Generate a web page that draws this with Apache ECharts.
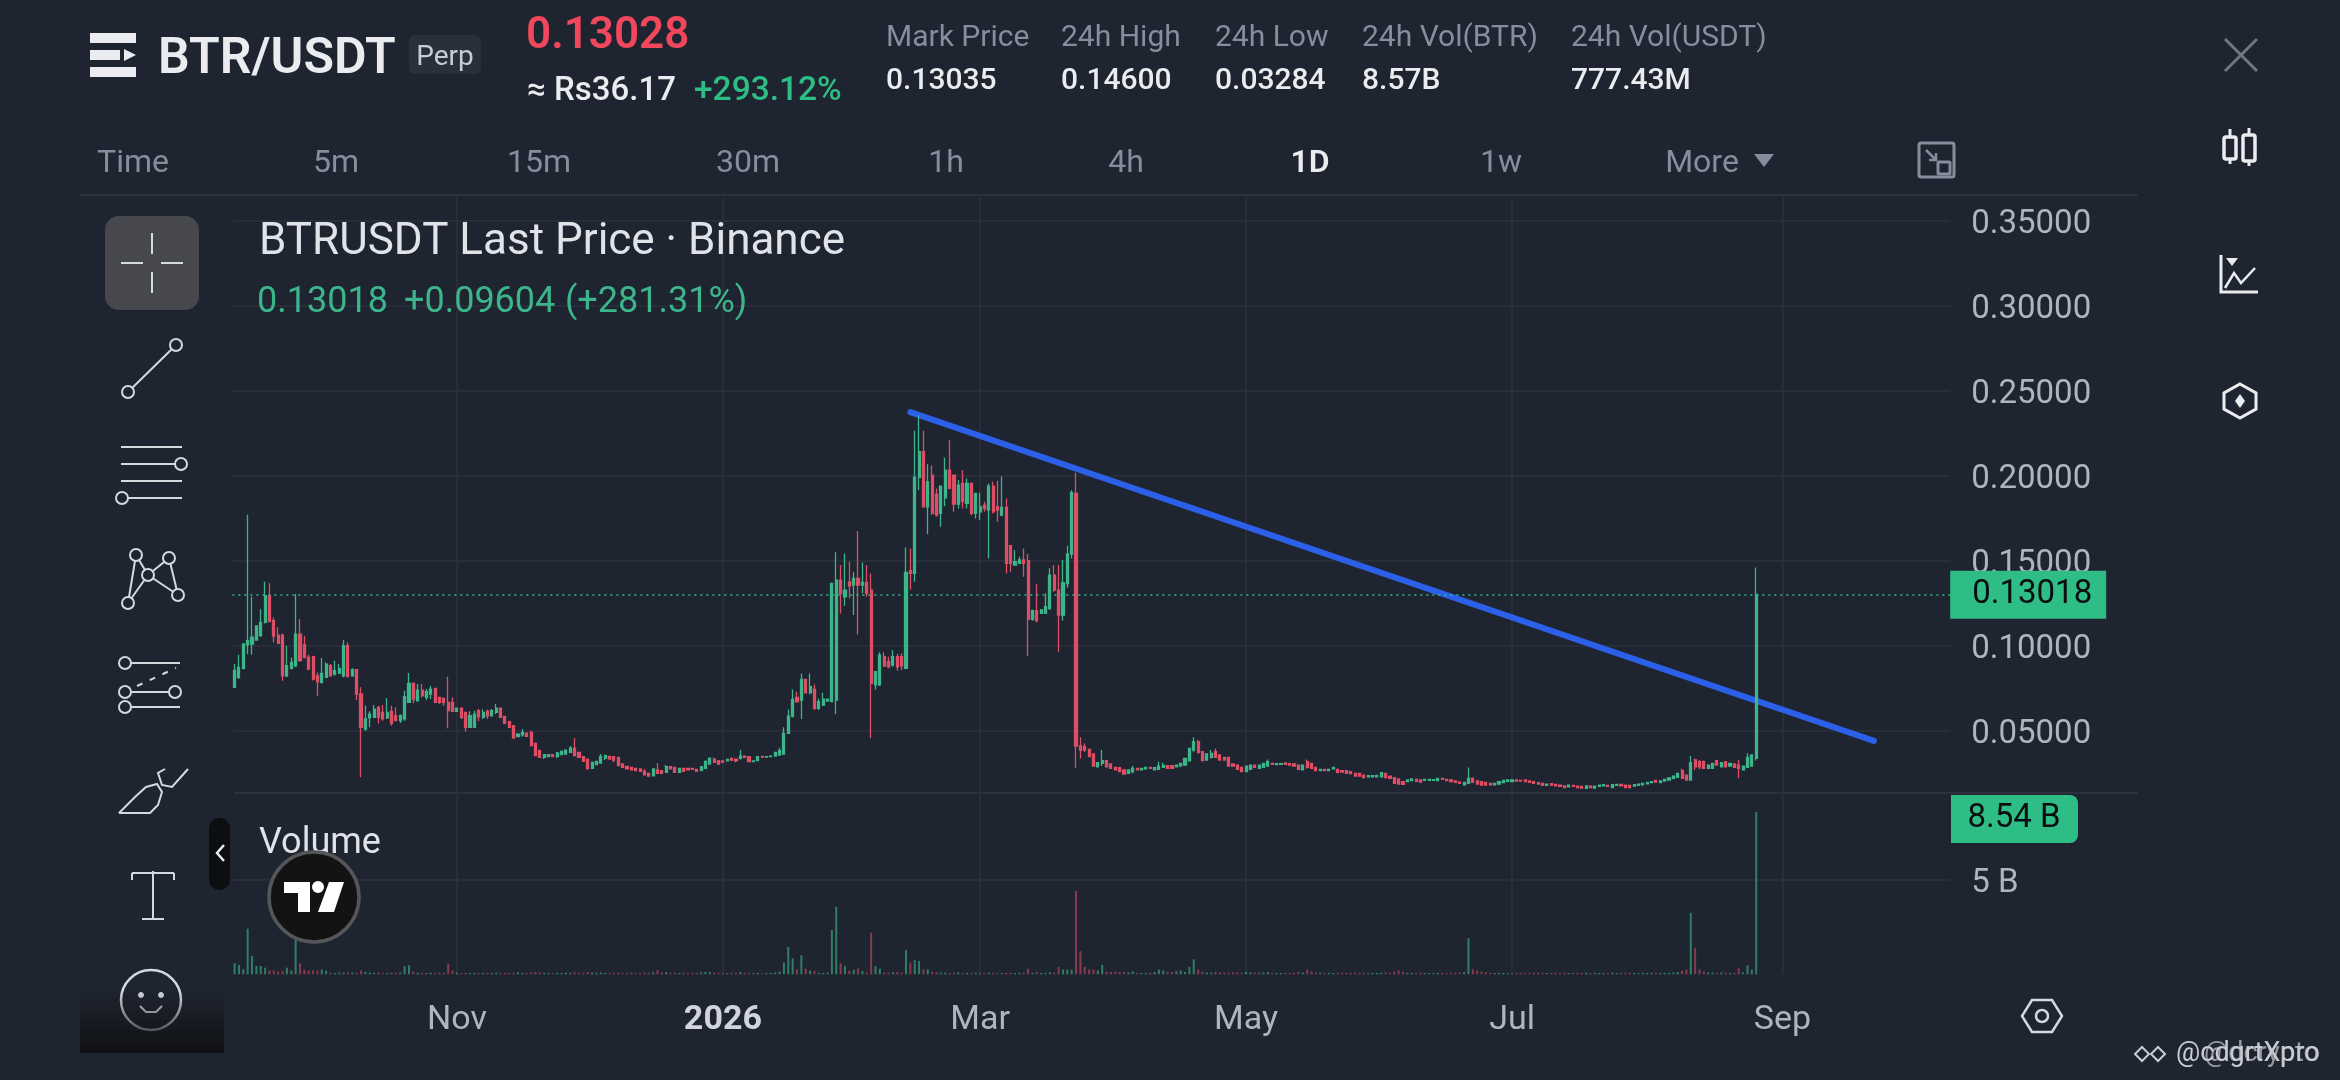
<!DOCTYPE html>
<html><head><meta charset="utf-8"><title>BTR/USDT</title>
<style>html,body{margin:0;padding:0;background:#1e2430;}#c{width:2340px;height:1080px;}</style>
<script src="https://cdn.jsdelivr.net/npm/echarts@6/dist/echarts.min.js"></script>
</head><body><div id="c"></div>
<script>
const startDate = '2025-09-11';
const categoryCount = 394;
const monthTicks = {'2025-11-01':'Nov','2026-01-01':'2026','2026-03-01':'Mar','2026-05-01':'May','2026-07-01':'Jul','2026-09-01':'Sep'};
const priceTicks = [0.05,0.10,0.15,0.20,0.25,0.30,0.35];
const opens = [
.0755,.0814,.0867,.1005,.1010,.1033,.1060,.1137,.1294,.1147,
.1062,.1062,.0823,.0867,.0882,.1068,.1004,.0931,.0935,.0823,
.0784,.0814,.0882,.0833,.0839,.0823,.1000,.0823,.0859,.0716,
.0510,.0575,.0578,.0637,.0608,.0575,.0614,.0588,.0559,.0569,
.0667,.0778,.0676,.0739,.0696,.0716,.0749,.0696,.0690,.0667,
.0667,.0614,.0633,.0608,.0520,.0520,.0618,.0578,.0614,.0588,
.0608,.0633,.0584,.0553,.0529,.0465,.0475,.0486,.0490,.0426,
.0382,.0343,.0347,.0359,.0347,.0359,.0363,.0373,.0398,.0373,
.0347,.0333,.0279,.0300,.0310,.0339,.0349,.0347,.0343,.0304,
.0290,.0284,.0278,.0275,.0261,.0249,.0235,.0269,.0265,.0255,
.0288,.0284,.0255,.0278,.0278,.0278,.0273,.0265,.0278,.0304,
.0333,.0323,.0323,.0322,.0337,.0333,.0337,.0351,.0347,.0318,
.0324,.0349,.0345,.0347,.0351,.0357,.0363,.0484,.0586,.0696,
.0680,.0802,.0723,.0743,.0631,.0651,.0674,.0671,.0680,.1386,
.1288,.1376,.1357,.1396,.1357,.1372,.1327,.0769,.0769,.0935,
.0906,.0886,.0935,.0935,.0867,.1441,.1425,.1990,.2141,.1817,
.2003,.1890,.1778,.1870,.2033,.2003,.1833,.1954,.1837,.1954,
.1778,.1788,.1827,.1798,.1939,.1817,.1768,.1813,.1588,.1474,
.1484,.1504,.1500,.1155,.1206,.1190,.1190,.1219,.1415,.1327,
.1180,.1366,.1539,.1896,.0410,.0406,.0390,.0363,.0288,.0308,
.0324,.0304,.0284,.0282,.0269,.0249,.0259,.0278,.0269,.0275,
.0284,.0269,.0273,.0284,.0294,.0294,.0288,.0292,.0298,.0322,
.0386,.0435,.0377,.0327,.0343,.0377,.0357,.0343,.0343,.0304,
.0298,.0284,.0259,.0273,.0298,.0278,.0284,.0292,.0308,.0300,
.0302,.0310,.0306,.0304,.0298,.0269,.0318,.0308,.0284,.0265,
.0273,.0265,.0276,.0273,.0265,.0265,.0259,.0249,.0249,.0239,
.0228,.0228,.0229,.0229,.0249,.0233,.0224,.0216,.0200,.0200,
.0206,.0214,.0210,.0208,.0208,.0208,.0206,.0220,.0214,.0210,
.0204,.0198,.0182,.0190,.0220,.0204,.0200,.0196,.0190,.0182,
.0186,.0194,.0202,.0200,.0210,.0208,.0210,.0204,.0200,.0194,
.0190,.0178,.0188,.0184,.0180,.0176,.0170,.0178,.0174,.0172,
.0161,.0174,.0163,.0172,.0176,.0178,.0166,.0178,.0184,.0180,
.0178,.0174,.0178,.0182,.0188,.0194,.0208,.0194,.0204,.0210,
.0218,.0225,.0265,.0239,.0210,.0328,.0318,.0318,.0278,.0278,
.0324,.0288,.0318,.0292,.0304,.0298,.0269,.0284,.0292,.0337];
const closes = [
.0855,.0872,.1010,.1030,.1050,.1117,.1137,.1294,.1143,.1057,
.1014,.0823,.0882,.0902,.1068,.0912,.0931,.0863,.0804,.0788,
.0837,.0892,.0823,.0853,.0867,.1000,.0818,.0859,.0716,.0520,
.0569,.0598,.0627,.0578,.0569,.0608,.0543,.0559,.0588,.0700,
.0778,.0686,.0739,.0706,.0729,.0745,.0667,.0667,.0667,.0618,
.0614,.0633,.0578,.0520,.0588,.0598,.0582,.0608,.0588,.0618,
.0633,.0578,.0543,.0520,.0457,.0480,.0490,.0467,.0412,.0353,
.0343,.0359,.0359,.0347,.0370,.0378,.0386,.0398,.0353,.0343,
.0320,.0275,.0314,.0320,.0347,.0353,.0333,.0327,.0294,.0284,
.0275,.0269,.0265,.0261,.0241,.0233,.0275,.0249,.0249,.0288,
.0275,.0255,.0278,.0261,.0269,.0273,.0261,.0288,.0320,.0339,
.0314,.0304,.0314,.0331,.0327,.0322,.0351,.0343,.0318,.0322,
.0347,.0345,.0347,.0351,.0373,.0382,.0484,.0586,.0684,.0670,
.0802,.0723,.0759,.0631,.0671,.0686,.0686,.1366,.1386,.1308,
.1327,.1351,.1396,.1357,.1372,.1308,.0778,.0847,.0945,.0880,
.0876,.0935,.0876,.0882,.1431,.1425,.1990,.2141,.1817,.1964,
.1778,.1768,.1939,.2033,.1925,.1833,.1945,.1847,.1954,.1778,
.1896,.1817,.1807,.1939,.1788,.1798,.1813,.1484,.1484,.1494,
.1504,.1484,.1155,.1206,.1147,.1210,.1229,.1415,.1327,.1180,
.1370,.1539,.1900,.0410,.0386,.0386,.0347,.0292,.0312,.0324,
.0288,.0278,.0269,.0259,.0245,.0269,.0278,.0269,.0278,.0284,
.0278,.0282,.0292,.0296,.0278,.0278,.0298,.0308,.0337,.0396,
.0435,.0371,.0324,.0363,.0367,.0343,.0327,.0327,.0292,.0292,
.0273,.0259,.0292,.0298,.0284,.0298,.0308,.0318,.0302,.0306,
.0306,.0302,.0298,.0292,.0273,.0298,.0284,.0278,.0265,.0273,
.0265,.0273,.0284,.0253,.0257,.0249,.0247,.0233,.0233,.0224,
.0235,.0235,.0237,.0253,.0224,.0220,.0190,.0186,.0184,.0210,
.0216,.0202,.0198,.0214,.0214,.0212,.0220,.0214,.0206,.0200,
.0196,.0190,.0196,.0220,.0196,.0186,.0180,.0180,.0182,.0190,
.0200,.0208,.0210,.0210,.0204,.0204,.0200,.0196,.0190,.0186,
.0178,.0186,.0180,.0176,.0172,.0166,.0180,.0172,.0166,.0163,
.0176,.0166,.0174,.0180,.0182,.0172,.0182,.0184,.0176,.0166,
.0166,.0182,.0186,.0190,.0196,.0200,.0198,.0204,.0214,.0222,
.0233,.0249,.0220,.0210,.0312,.0288,.0288,.0278,.0298,.0308,
.0298,.0312,.0288,.0308,.0284,.0278,.0292,.0343,.0357,.13018];
const lows = [
.0749,.0804,.0860,.0950,.0947,.1030,.1053,.1130,.1137,.1019,
.1010,.0794,.0815,.0860,.0875,.0905,.0925,.0855,.0795,.0706,
.0778,.0810,.0817,.0823,.0833,.0815,.0814,.0817,.0680,.0226,
.0500,.0520,.0575,.0543,.0559,.0569,.0529,.0555,.0545,.0559,
.0663,.0661,.0673,.0696,.0680,.0686,.0665,.0657,.0647,.0514,
.0608,.0610,.0569,.0496,.0516,.0518,.0555,.0569,.0569,.0584,
.0598,.0575,.0540,.0518,.0455,.0461,.0465,.0463,.0410,.0350,
.0341,.0333,.0345,.0345,.0340,.0355,.0359,.0370,.0351,.0341,
.0318,.0273,.0275,.0298,.0308,.0327,.0331,.0314,.0292,.0282,
.0273,.0267,.0263,.0259,.0239,.0231,.0233,.0245,.0247,.0253,
.0273,.0253,.0253,.0259,.0267,.0271,.0259,.0263,.0275,.0302,
.0312,.0302,.0312,.0320,.0322,.0314,.0331,.0341,.0316,.0316,
.0322,.0343,.0343,.0345,.0349,.0355,.0357,.0480,.0578,.0668,
.0569,.0721,.0715,.0622,.0622,.0645,.0670,.0669,.0598,.1190,
.1233,.1278,.1180,.1066,.1308,.1288,.0455,.0743,.0763,.0876,
.0867,.0876,.0853,.0857,.0861,.1331,.1376,.1915,.1813,.1656,
.1770,.1758,.1700,.1821,.1920,.1788,.1807,.1807,.1807,.1768,
.1748,.1739,.1788,.1513,.1778,.1729,.1762,.1425,.1435,.1470,
.1480,.1405,.0939,.1147,.1137,.1186,.1186,.1210,.1317,.0965,
.1147,.1343,.1513,.0282,.0337,.0376,.0345,.0290,.0286,.0292,
.0286,.0276,.0267,.0257,.0243,.0247,.0249,.0267,.0267,.0273,
.0276,.0267,.0269,.0280,.0276,.0276,.0286,.0290,.0296,.0320,
.0376,.0369,.0322,.0325,.0337,.0341,.0325,.0325,.0290,.0290,
.0271,.0257,.0257,.0271,.0282,.0276,.0282,.0290,.0300,.0298,
.0300,.0300,.0296,.0290,.0271,.0267,.0276,.0276,.0263,.0263,
.0263,.0263,.0274,.0251,.0255,.0247,.0245,.0231,.0231,.0222,
.0226,.0226,.0227,.0227,.0222,.0218,.0188,.0184,.0182,.0198,
.0204,.0200,.0196,.0206,.0206,.0206,.0204,.0212,.0204,.0198,
.0194,.0188,.0180,.0186,.0194,.0184,.0178,.0178,.0180,.0180,
.0184,.0192,.0200,.0198,.0202,.0202,.0198,.0194,.0188,.0184,
.0176,.0176,.0178,.0174,.0170,.0164,.0168,.0170,.0164,.0161,
.0159,.0164,.0161,.0170,.0174,.0170,.0164,.0176,.0174,.0164,
.0164,.0172,.0176,.0180,.0186,.0192,.0196,.0192,.0202,.0208,
.0216,.0223,.0218,.0208,.0208,.0269,.0273,.0276,.0276,.0276,
.0296,.0286,.0286,.0290,.0282,.0220,.0267,.0282,.0290,.0325];
const highs = [
.0892,.0947,.1015,.1770,.1288,.1117,.1215,.1376,.1368,.1166,
.1108,.1070,.1000,.0931,.1304,.1157,.1059,.0947,.0941,.0843,
.0927,.0902,.0892,.0912,.0892,.1033,.1019,.0867,.0863,.0755,
.0647,.0614,.0651,.0647,.0651,.0692,.0647,.0637,.0596,.0735,
.0839,.0784,.0774,.0774,.0745,.0765,.0753,.0698,.0696,.0818,
.0696,.0637,.0637,.0610,.0614,.0618,.0627,.0624,.0624,.0627,
.0657,.0637,.0586,.0555,.0530,.0486,.0510,.0490,.0500,.0430,
.0390,.0360,.0361,.0361,.0375,.0384,.0390,.0410,.0455,.0375,
.0349,.0335,.0316,.0322,.0363,.0359,.0353,.0351,.0345,.0306,
.0292,.0286,.0280,.0277,.0275,.0251,.0279,.0310,.0267,.0298,
.0290,.0286,.0280,.0280,.0280,.0280,.0275,.0290,.0325,.0343,
.0343,.0327,.0325,.0333,.0343,.0337,.0386,.0353,.0349,.0324,
.0349,.0351,.0349,.0353,.0375,.0400,.0520,.0625,.0743,.0729,
.0837,.0806,.0837,.0772,.0690,.0723,.0690,.1370,.1549,.1474,
.1543,.1494,.1435,.1674,.1490,.1474,.1425,.0847,.0961,.0961,
.0935,.0974,.0951,.0955,.1578,.1572,.2264,.2356,.2264,.2068,
.2060,.1925,.1939,.2107,.2209,.2005,.1974,.2033,.1984,.1956,
.1896,.1899,.1847,.1954,.1964,.1970,.1997,.1866,.1590,.1562,
.1523,.1572,.1539,.1213,.1362,.1216,.1308,.1455,.1474,.1474,
.1504,.1588,.1915,.2017,.0461,.0425,.0392,.0365,.0314,.0386,
.0326,.0306,.0286,.0284,.0271,.0271,.0292,.0280,.0280,.0286,
.0286,.0284,.0318,.0312,.0296,.0296,.0300,.0310,.0339,.0400,
.0461,.0445,.0379,.0365,.0386,.0396,.0359,.0345,.0345,.0306,
.0300,.0286,.0294,.0300,.0300,.0300,.0310,.0331,.0310,.0308,
.0308,.0312,.0308,.0306,.0300,.0300,.0331,.0310,.0286,.0275,
.0275,.0275,.0286,.0275,.0267,.0267,.0261,.0251,.0251,.0241,
.0237,.0237,.0239,.0255,.0251,.0235,.0226,.0218,.0202,.0212,
.0218,.0216,.0212,.0216,.0216,.0214,.0222,.0222,.0216,.0212,
.0206,.0200,.0198,.0284,.0224,.0206,.0202,.0198,.0192,.0192,
.0202,.0210,.0212,.0212,.0212,.0210,.0212,.0206,.0202,.0196,
.0192,.0188,.0190,.0186,.0182,.0178,.0182,.0180,.0176,.0174,
.0178,.0176,.0176,.0182,.0184,.0180,.0184,.0186,.0186,.0182,
.0180,.0184,.0188,.0192,.0198,.0202,.0210,.0206,.0216,.0224,
.0235,.0251,.0276,.0241,.0351,.0337,.0327,.0325,.0300,.0310,
.0326,.0314,.0320,.0310,.0306,.0328,.0294,.0367,.0359,.1460];
const volumes = [
.58,.49,.26,2.40,.96,.44,.44,.35,.20,.20,
.14,.18,.35,.20,1.84,.58,.25,.20,.20,.20,
.25,.20,.09,.07,.09,.08,.10,.09,.07,.20,
.12,.09,.08,.10,.08,.07,.09,.08,.10,.44,
.47,.15,.08,.08,.07,.08,.07,.09,.08,.56,
.20,.09,.07,.08,.07,.08,.06,.07,.08,.07,
.09,.07,.08,.07,.08,.10,.08,.07,.09,.12,
.10,.08,.07,.06,.08,.07,.09,.08,.10,.08,
.07,.12,.09,.08,.10,.07,.06,.08,.09,.07,
.07,.08,.06,.07,.09,.08,.10,.22,.10,.12,
.08,.09,.07,.08,.06,.07,.07,.10,.12,.12,
.09,.08,.07,.06,.09,.08,.12,.07,.08,.06,
.08,.06,.06,.07,.10,.14,.61,1.44,.84,.26,
1.00,.30,.20,.18,.08,.07,.10,2.33,3.55,.58,
.44,.20,.25,.32,.18,.09,2.19,.44,.30,.10,
.09,.10,.12,.08,1.28,.61,.75,.70,.25,.26,
.14,.10,.08,.09,.07,.08,.10,.07,.08,.07,
.08,.06,.07,.09,.08,.06,.07,.09,.08,.07,
.08,.09,.30,.09,.12,.07,.08,.10,.09,.39,
.25,.25,.25,4.38,1.22,.40,.26,.25,.20,.49,
.14,.12,.14,.12,.12,.10,.15,.08,.07,.08,
.09,.12,.25,.20,.12,.12,.16,.20,.12,.39,
.79,.26,.14,.10,.09,.14,.10,.08,.09,.10,
.10,.08,.12,.10,.09,.08,.10,.12,.07,.07,
.07,.08,.07,.08,.12,.10,.25,.15,.10,.08,
.07,.08,.07,.09,.08,.07,.08,.09,.07,.08,
.06,.07,.07,.09,.10,.08,.14,.20,.12,.08,
.07,.07,.08,.06,.07,.06,.08,.07,.07,.08,
.08,.09,.12,1.90,.26,.20,.14,.10,.08,.07,
.08,.07,.06,.06,.07,.07,.06,.08,.08,.09,
.08,.07,.07,.08,.07,.08,.07,.07,.08,.07,
.09,.07,.08,.07,.06,.07,.09,.07,.07,.08,
.08,.07,.07,.09,.07,.08,.09,.07,.08,.08,
.10,.12,.20,.25,3.24,1.40,.25,.14,.10,.09,
.08,.09,.08,.07,.09,.32,.10,.47,.25,8.54];
const trendIndex = [155, 376];
const trendValue = [0.2374, 0.04397];
const lastPrice = 0.13018;
const lastVolumeLabel = '8.54 B';

const UP='#3db58a', DOWN='#de4f66', BOX='#2ebd85', BG='#1e2430', GRID='#2c313c', AXIS='#b0b4bb', MUTED='#848e9c', LIGHT='#eaecef', ICON='#d5d8dc';
const FONT='Roboto';
const categories=[];
{const t0=Date.parse(startDate+'T00:00:00Z');for(let i=0;i<categoryCount;i++)categories.push(new Date(t0+i*864e5).toISOString().slice(0,10));}
const candles=opens.map((o,i)=>[o,closes[i],lows[i],highs[i]]);
const volData=volumes.map((v,i)=>({value:v,itemStyle:{color:closes[i]>=opens[i]?'rgba(61,181,138,.62)':'rgba(222,79,102,.55)'}}));
const isTick=(idx,val)=>monthTicks[val]!==undefined;

const T=(text,x,y,size,fill,weight,align)=>({type:'text',z:20,style:{x,y:y+6,text,fill,fontFamily:FONT,fontSize:size,fontWeight:weight||400,textAlign:align||'left',textVerticalAlign:'middle'}});
const L=(x1,y1,x2,y2,c,w,dash)=>({type:'line',z:20,shape:{x1,y1,x2,y2},style:{stroke:c||ICON,lineWidth:w||2,lineDash:dash,lineCap:'butt'}});
const C=(cx,cy,r,c,w,fill)=>({type:'circle',z:20,shape:{cx,cy,r},style:{stroke:c||ICON,lineWidth:w||2,fill:fill||BG}});
const P=(points,c,w)=>({type:'polyline',z:20,shape:{points},style:{stroke:c||ICON,lineWidth:w||2,fill:'none'}});
const G=(points,fill,stroke,w)=>({type:'polygon',z:20,shape:{points},style:{fill:fill,stroke:stroke,lineWidth:w||0}});
const R=(x,y,width,height,r,fill,stroke,w)=>({type:'rect',z:20,shape:{x,y,width,height,r},style:{fill:fill,stroke:stroke,lineWidth:w||0}});

const ui=[
// header
R(90,33,46,10,0,LIGHT),R(90,67,46,10,0,LIGHT),R(90,50,30,10,0,LIGHT),G([[124,49],[136,55],[124,61]],LIGHT),
T('BTR/USDT',158,54,50,LIGHT,600),
R(409,35,72,39,6,'#2a303b'),T('Perp',445,52,28,'#c8ccd2',400,'center'),
T('0.13028',526,31,44,'#f0475d',600),
T('≈ Rs36.17',527,86,33,LIGHT,500),T('+293.12%',694,86,33.5,BOX,500),
T('Mark Price',886,32,30,MUTED),T('0.13035',886,75,30,LIGHT,500),
T('24h High',1061,32,30,MUTED),T('0.14600',1061,75,30,LIGHT,500),
T('24h Low',1215,32,30,MUTED),T('0.03284',1215,75,30,LIGHT,500),
T('24h Vol(BTR)',1362,32,30,MUTED),T('8.57B',1362,75,30,LIGHT,500),
T('24h Vol(USDT)',1571,32,30,MUTED),T('777.43M',1571,75,30,LIGHT,500),
// tabs
T('Time',133,158,32,MUTED,400,'center'),T('5m',336,158,32,MUTED,400,'center'),T('15m',539,158,32,MUTED,400,'center'),
T('30m',748,158,32,MUTED,400,'center'),T('1h',946,158,32,MUTED,400,'center'),T('4h',1126,158,32,MUTED,400,'center'),
T('1D',1310,158,32,LIGHT,600,'center'),T('1w',1501,158,32,MUTED,400,'center'),T('More',1702,158,32,MUTED,400,'center'),
G([[1754,154],[1774,154],[1764,167]],MUTED),
R(1919,143,35,34,2,'none',MUTED,3),R(1938,162,12,12,1,BG,MUTED,3),L(1926,150,1936,160,MUTED,2.5),P([[1936,153],[1936,160],[1929,160]],MUTED,2.5),
L(80,195,2138,195,GRID,2),L(234,793,2138,793,GRID,2),
// right icons
L(2225,39,2257,71,'#6f7785',3),L(2257,39,2225,71,'#6f7785',3),
R(2224,137,12,22,2,'none',LIGHT,3.5),L(2230,129,2230,137,LIGHT,3),L(2230,159,2230,164,LIGHT,3),
R(2243,135,12,26,2,'none',LIGHT,3.5),L(2249,128,2249,135,LIGHT,3),L(2249,161,2249,166,LIGHT,3),
P([[2221,255],[2221,292],[2258,292]],LIGHT,3),G([[2226,258],[2238,258],[2232,266]],LIGHT),P([[2225,288],[2234,273],[2241,283],[2255,268]],LIGHT,2.5),
G([[2240,384],[2256,393],[2256,409],[2240,418],[2224,409],[2224,393]],'none',LIGHT,3),G([[2240,394],[2245,401],[2240,408],[2235,401]],LIGHT),
// left tools
R(105,216,94,94,14,'#46484d'),L(152,233,152,254),L(152,272,152,293),L(121,263,143,263),L(161,263,183,263),
L(128,392,176,345),C(128,392,6),C(176,345,6),
L(121,447,182,447),L(121,464,178,464),L(121,481,182,481),L(128,498,182,498),C(181,464,6),C(122,498,6),
L(136,555,148,575),L(136,555,128,603),L(148,575,128,603),L(148,575,169,558),L(169,558,178,595),L(148,575,178,595),
C(136,555,6),C(169,558,6),C(148,575,6),C(128,603,6),C(178,595,6),
L(130,663,180,663),L(130,692,170,692),L(130,707,180,707),L(137,686,176,668,ICON,2,[6,8]),C(125,663,6),C(125,692,6),C(175,692,6),C(125,707,6),
P([[119,813],[135,797],[146,787],[157,784],[162,792],[158,805],[150,813],[119,813]]),P([[165,769],[158,773],[162,785],[172,787],[188,769]]),
L(153,871,153,919),L(132,873,174,873),L(142,919,164,919),L(132,873,132,880),L(174,873,174,880),
C(151,1000,30,ICON,2.5,'none'),C(141,995,2.5,ICON,1,ICON),C(161,995,2.5,ICON,1,ICON),P([[140,1006],[146,1012],[156,1012],[162,1006]]),
{type:'rect',z:21,shape:{x:80,y:990,width:144,height:63},style:{fill:new echarts.graphic.LinearGradient(0,0,0,1,[{offset:0,color:'rgba(16,17,20,0)'},{offset:1,color:'#0f1013'}])}},
R(209,818,21,72,10,'#0d0e11'),P([[224,845],[217,853],[224,861]],LIGHT,2.5),
// legends
T('BTRUSDT Last Price · Binance',259,237,44,'#e0e3e8'),
T('0.13018',257,297,36,UP),T('+0.09604',404,297,36,UP),T('(+281.31%)',565,297,36,UP),
T('Volume',259,838,36,'#e0e3e8'),
// tv badge
C(314,897,45,'#54565a',3.5,'#131313'),
G([[284,882],[310,882],[310,912],[298,912],[298,893],[284,893]],'#fff'),C(318,887,5,'#fff',0,'#fff'),G([[329,882],[344,882],[334,912],[318,912]],'#fff'),
// volume last label
R(1951,795,127,48,[0,8,8,0],BOX),T(lastVolumeLabel,2014,813,33,'#0b0e11',400,'center'),
// settings hex + watermark
G([[2032,1000],[2052,1000],[2062,1016],[2052,1032],[2032,1032],[2022,1016]],'none',ICON,2.5),C(2042,1016,6,ICON,2.5,'none'),
G([[2142,1047],[2149,1054],[2142,1061],[2135,1054]],'none','#c9ccd1',2),G([[2158,1047],[2165,1054],[2158,1061],[2151,1054]],'none','#c9ccd1',2),
T('@cdgrtXpro',2176,1048,27,'#c9ccd1'),T('@dcrypto',2204,1048,27,'rgba(201,204,209,.7)')
];

const chart=echarts.init(document.getElementById('c'),null,{renderer:'canvas'});
const xBase={type:'category',data:categories,boundaryGap:true,axisLine:{show:false},axisTick:{show:false}};
chart.setOption({
 animation:false,backgroundColor:BG,
 grid:[
  {left:232.4,width:1717.8,top:220.7,height:595,containLabel:false},
  {left:232.4,width:1717.8,top:784.3,height:190,containLabel:false},
  {left:232.4,width:1717.8,top:197,height:777.3,containLabel:false}
 ],
 xAxis:[
  Object.assign({},xBase,{gridIndex:0,axisLabel:{show:false},splitLine:{show:false}}),
  Object.assign({},xBase,{gridIndex:1,axisLabel:{show:false},splitLine:{show:false}}),
  Object.assign({},xBase,{gridIndex:2,
    axisTick:{show:false},
    splitLine:{show:true,interval:isTick,alignWithLabel:true,lineStyle:{color:GRID,width:1.5}},
    axisLabel:{show:true,interval:isTick,margin:29,hideOverlap:false,formatter:v=>{const m=monthTicks[v];return m==='2026'?'{b|2026}':(m||'');},
      color:AXIS,fontFamily:FONT,fontSize:34,rich:{b:{fontFamily:FONT,fontSize:34,fontWeight:700,color:'#d1d4dc'}}}})
 ],
 yAxis:[
  {type:'value',gridIndex:0,position:'right',min:0,max:0.35,interval:0.05,axisLine:{show:false},axisTick:{show:false},
   splitLine:{show:true,showMinLine:false,lineStyle:{color:GRID,width:1.5}},
   axisLabel:{margin:21,verticalAlign:'top',lineHeight:8,color:AXIS,fontFamily:FONT,fontSize:33,formatter:v=>priceTicks.some(t=>Math.abs(t-v)<1e-9)?v.toFixed(5):''}},
  {type:'value',gridIndex:1,position:'right',min:0,max:10,interval:5,axisLine:{show:false},axisTick:{show:false},
   splitLine:{show:true,showMinLine:false,showMaxLine:false,lineStyle:{color:GRID,width:1.5}},
   axisLabel:{margin:21,verticalAlign:'top',lineHeight:8,color:AXIS,fontFamily:FONT,fontSize:33,formatter:v=>v===5?'5 B':''}},
  {type:'value',gridIndex:2,show:false,min:0,max:1}
 ],
 series:[
  {type:'line',xAxisIndex:0,yAxisIndex:0,z:3,showSymbol:false,symbol:'none',silent:true,clip:false,
   data:[[trendIndex[0],trendValue[0]],[trendIndex[1],trendValue[1]]],
   lineStyle:{color:'#2c60e8',width:6,cap:'round'}},
  {type:'candlestick',xAxisIndex:0,yAxisIndex:0,z:4,barWidth:2.6,clip:false,data:candles,silent:true,
   itemStyle:{color:UP,color0:DOWN,borderColor:UP,borderColor0:DOWN,borderWidth:1.3},
   markLine:{silent:true,symbol:'none',animation:false,
    lineStyle:{color:BOX,type:[2,4],width:1.6},
    label:{show:true,position:'end',distance:0,formatter:()=>lastPrice.toFixed(5),backgroundColor:BOX,color:'#0b0e11',fontFamily:FONT,fontSize:33,padding:[9,14,6,22]},
    data:[{yAxis:lastPrice}]}},
  {type:'bar',xAxisIndex:1,yAxisIndex:1,barWidth:2,silent:true,data:volData}
 ],
 graphic:{elements:ui}
});
</script></body></html>
